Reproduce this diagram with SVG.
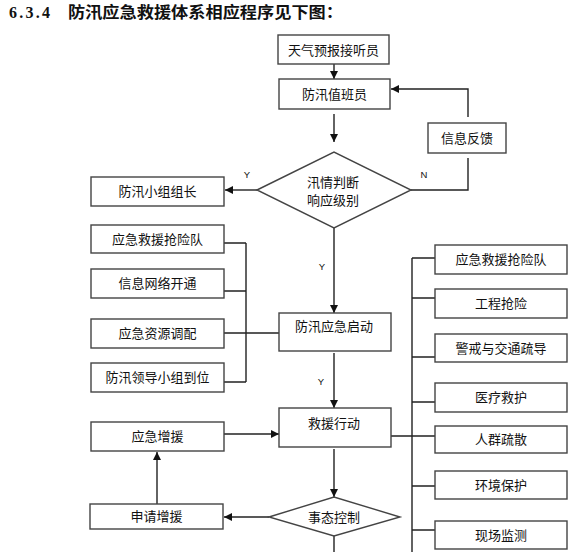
<svg xmlns="http://www.w3.org/2000/svg" width="576" height="552" viewBox="0 0 576 552">
<style>
.box{fill:#fff;stroke:#444;stroke-width:1.4}
.t{font-family:"Noto Sans CJK SC","Liberation Sans",sans-serif;font-size:13px;fill:#111;text-anchor:middle}
.c{fill:none;stroke:#222;stroke-width:1.4}
.yn{font-family:"Liberation Sans",sans-serif;font-size:9.5px;fill:#111;text-anchor:middle}
.title{font-family:"Noto Sans CJK SC","Liberation Serif",serif;font-size:15.5px;font-weight:bold;fill:#111}
.num{font-family:"Liberation Serif",serif;font-size:16px;font-weight:bold;fill:#111}
</style>
<defs>
<marker id="ah" viewBox="0 0 10 10" refX="10" refY="5" markerWidth="8" markerHeight="8" markerUnits="userSpaceOnUse" orient="auto">
<path d="M0,0 L10,5 L0,10 Z" fill="#111"/>
</marker>
</defs>
<rect width="576" height="552" fill="#fff"/>
<text class="num" x="9" y="18" textLength="41" lengthAdjust="spacing">6.3.4</text>
<text class="title" x="68" y="18" textLength="275" lengthAdjust="spacingAndGlyphs">防汛应急救援体系相应程序见下图：</text>

<g id="connectors">
<path class="c" d="M334,64 V79" marker-end="url(#ah)"/>
<path class="c" d="M334,114 V142" marker-end="url(#ah)"/>
<path class="c" d="M411,190 H468 V158"/>
<path class="c" d="M468,117 V89 H391" marker-end="url(#ah)"/>
<path class="c" d="M257,190 H225" marker-end="url(#ah)"/>
<path class="c" d="M224,243 H246 M224,291 H246 M224,382 H246 M246,243 V382 M224,333 H279"/>
<path class="c" d="M334,228 V313" marker-end="url(#ah)"/>
<path class="c" d="M334,353 V408" marker-end="url(#ah)"/>
<path class="c" d="M391,436 H412 M412,258 V552 M412,258 H435 M412,298 H435 M412,357 H435 M412,402 H435 M412,436 H435 M412,486 H435 M412,530 H435"/>
<path class="c" d="M224,434 H279" marker-end="url(#ah)"/>
<path class="c" d="M334,449 V497" marker-end="url(#ah)"/>
<path class="c" d="M269,517 H224" marker-end="url(#ah)"/>
<path class="c" d="M157,504 V452" marker-end="url(#ah)"/>
<path class="c" d="M334,536 V552"/>
<text class="yn" x="247" y="178">Y</text>
<text class="yn" x="424" y="178">N</text>
<text class="yn" x="322" y="270">Y</text>
<text class="yn" x="321" y="385">Y</text>
</g>

<g id="n1"><rect class="box" x="278" y="35" width="111" height="29"/><text class="t" x="333.5" y="54.5">天气预报接听员</text></g>
<g id="n2"><rect class="box" x="279" y="79" width="111" height="30"/><text class="t" x="334.5" y="98.5">防汛值班员</text></g>
<g id="n3"><rect class="box" x="428" y="123" width="78" height="30"/><text class="t" x="467" y="142.5">信息反馈</text></g>
<g id="d1"><polygon class="box" points="257,190 334,152 411,190 334,228"/><text class="t" x="333" y="186.5">汛情判断</text><text class="t" x="333" y="204.5">响应级别</text></g>
<g id="n4"><rect class="box" x="91" y="177" width="133" height="29"/><text class="t" x="157.5" y="196">防汛小组组长</text></g>
<g id="l1"><rect class="box" x="91" y="225" width="133" height="28"/><text class="t" x="157.5" y="243.5">应急救援抢险队</text></g>
<g id="l2"><rect class="box" x="91" y="269" width="133" height="29"/><text class="t" x="157.5" y="288">信息网络开通</text></g>
<g id="l3"><rect class="box" x="91" y="319" width="133" height="29"/><text class="t" x="157.5" y="338">应急资源调配</text></g>
<g id="l4"><rect class="box" x="91" y="363" width="133" height="29"/><text class="t" x="157.5" y="382">防汛领导小组到位</text></g>
<g id="n5"><rect class="box" x="279" y="313" width="112" height="38"/><text class="t" x="334" y="331">防汛应急启动</text></g>
<g id="n6"><rect class="box" x="279" y="408" width="112" height="39"/><text class="t" x="334" y="428">救援行动</text></g>
<g id="r1"><rect class="box" x="435" y="245" width="132" height="29"/><text class="t" x="501" y="264">应急救援抢险队</text></g>
<g id="r2"><rect class="box" x="435" y="289" width="132" height="29"/><text class="t" x="501" y="308">工程抢险</text></g>
<g id="r3"><rect class="box" x="435" y="334" width="132" height="28"/><text class="t" x="501" y="352.5">警戒与交通疏导</text></g>
<g id="r4"><rect class="box" x="435" y="383" width="132" height="29"/><text class="t" x="501" y="402">医疗救护</text></g>
<g id="r5"><rect class="box" x="435" y="426" width="132" height="27"/><text class="t" x="501" y="444">人群疏散</text></g>
<g id="r6"><rect class="box" x="435" y="471" width="132" height="28"/><text class="t" x="501" y="489.5">环境保护</text></g>
<g id="r7"><rect class="box" x="435" y="521" width="132" height="28"/><text class="t" x="501" y="539.5">现场监测</text></g>
<g id="n7"><rect class="box" x="91" y="422" width="133" height="29"/><text class="t" x="157.5" y="441">应急增援</text></g>
<g id="n8"><rect class="box" x="90" y="504" width="133" height="25"/><text class="t" x="156.5" y="521">申请增援</text></g>
<g id="d2"><polygon class="box" points="269,517 334,497 400,517 334,536"/><text class="t" x="334" y="521.5">事态控制</text></g>
</svg>
